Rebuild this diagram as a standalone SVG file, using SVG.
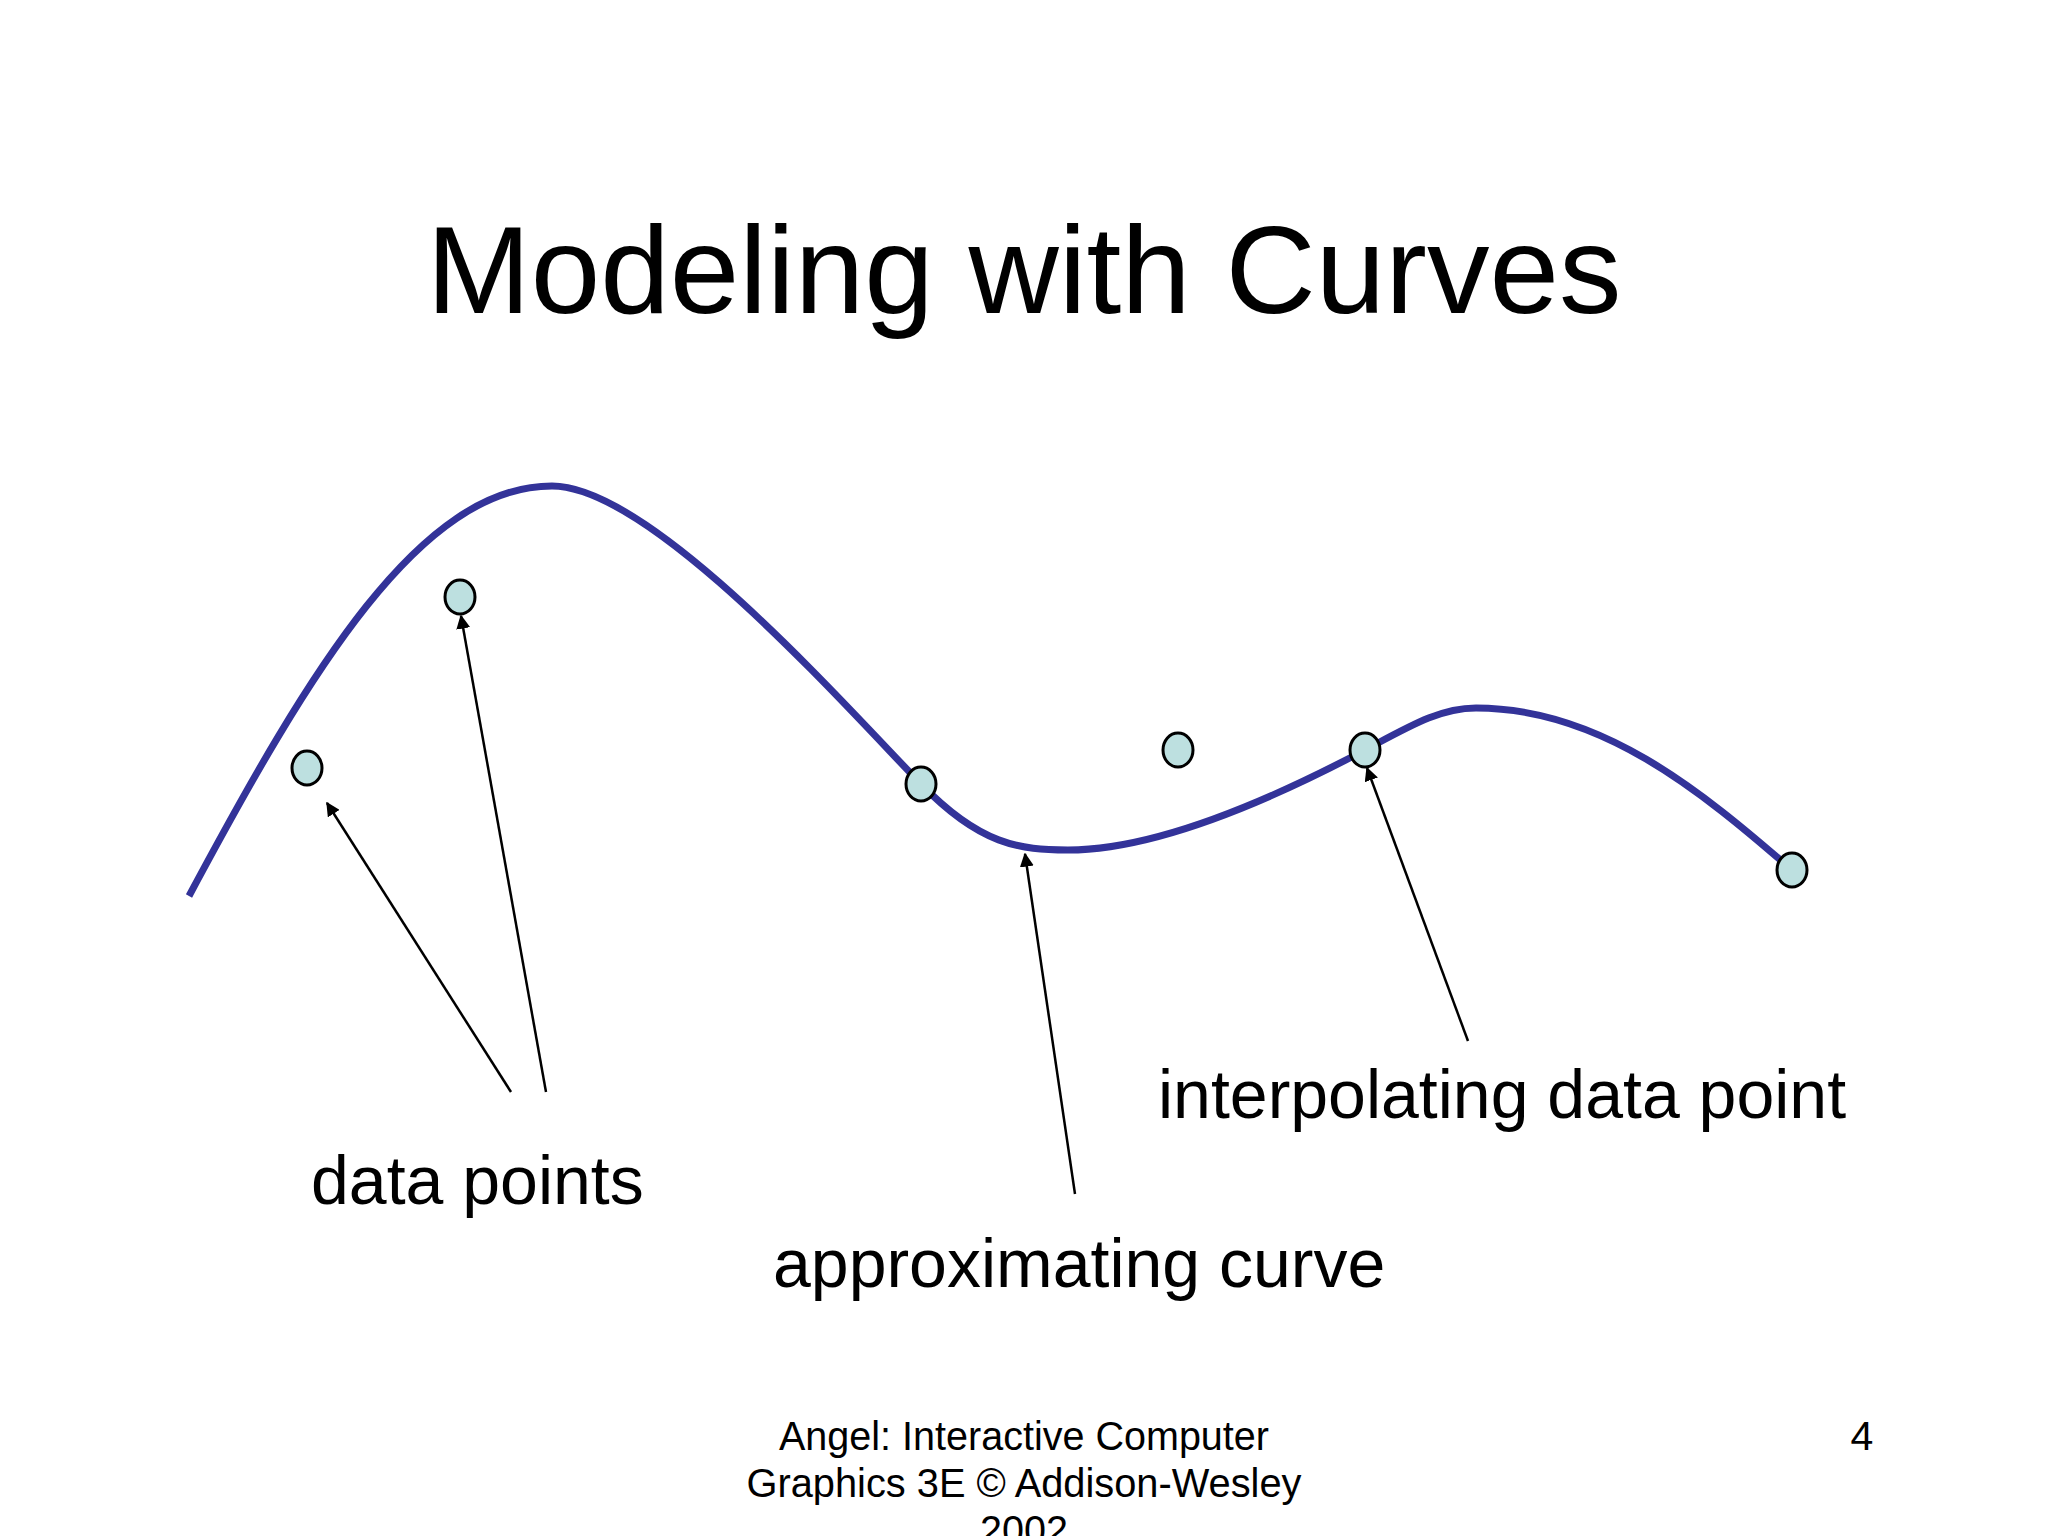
<svg xmlns="http://www.w3.org/2000/svg" width="2048" height="1536" viewBox="0 0 2048 1536">
<style>
.t{font-family:"Liberation Sans",Arial,sans-serif;fill:#000}
.pt{fill:#bde0e0;stroke:#000;stroke-width:3}
.ar{stroke:#000;stroke-width:2.5;fill:none;marker-end:url(#ah)}
</style>
<defs>
<marker id="ah" viewBox="0 0 10 10" refX="9" refY="5" markerWidth="14" markerHeight="14" markerUnits="userSpaceOnUse" orient="auto">
<path d="M0,0 L10,5 L0,10 z" fill="#000"/>
</marker>
</defs>
<rect width="2048" height="1536" fill="#fff"/>
<text class="t" x="1024" y="313" font-size="125" text-anchor="middle">Modeling with Curves</text>
<g id="curve">
<path d="M189,896 C 310,670 420,486 552,486 C 650,486 840,700 921,784 C 980,845 1020,850 1068,850 C 1160,850 1280,795 1365,750 C 1410,726 1440,708 1476,708 C 1600,708 1700,790 1792,870" fill="none" stroke="#333399" stroke-width="7"/>
</g>
<g id="connectors">
<line class="ar" x1="511" y1="1092" x2="327" y2="803"/>
<line class="ar" x1="546" y1="1092" x2="461" y2="616"/>
<line class="ar" x1="1075" y1="1194" x2="1025" y2="854"/>
<line class="ar" x1="1468" y1="1041" x2="1367" y2="768"/>
</g>
<g id="p1"><ellipse class="pt" cx="307" cy="768" rx="15" ry="17"/></g>
<g id="p2"><ellipse class="pt" cx="460" cy="597" rx="15" ry="17"/></g>
<g id="p3"><ellipse class="pt" cx="921" cy="784" rx="15" ry="17"/></g>
<g id="p4"><ellipse class="pt" cx="1178" cy="750" rx="15" ry="17"/></g>
<g id="p5"><ellipse class="pt" cx="1365" cy="750" rx="15" ry="17"/></g>
<g id="p6"><ellipse class="pt" cx="1792" cy="870" rx="15" ry="17"/></g>
<g id="label-data"><text class="t" x="311" y="1204" font-size="68">data points</text></g>
<g id="label-approx"><text class="t" x="773" y="1287" font-size="68">approximating curve</text></g>
<g id="label-interp"><text class="t" x="1158" y="1118" font-size="68">interpolating data point</text></g>
<g id="footer">
<text class="t" x="1024" y="1450" font-size="41" text-anchor="middle" textLength="490" lengthAdjust="spacingAndGlyphs">Angel: Interactive Computer</text>
<text class="t" x="1024" y="1497" font-size="41" text-anchor="middle" textLength="555" lengthAdjust="spacingAndGlyphs">Graphics 3E © Addison-Wesley</text>
<text class="t" x="1024" y="1544" font-size="41" text-anchor="middle" textLength="88" lengthAdjust="spacingAndGlyphs">2002</text>
<text class="t" x="1862" y="1450" font-size="41" text-anchor="middle">4</text>
</g>
</svg>
